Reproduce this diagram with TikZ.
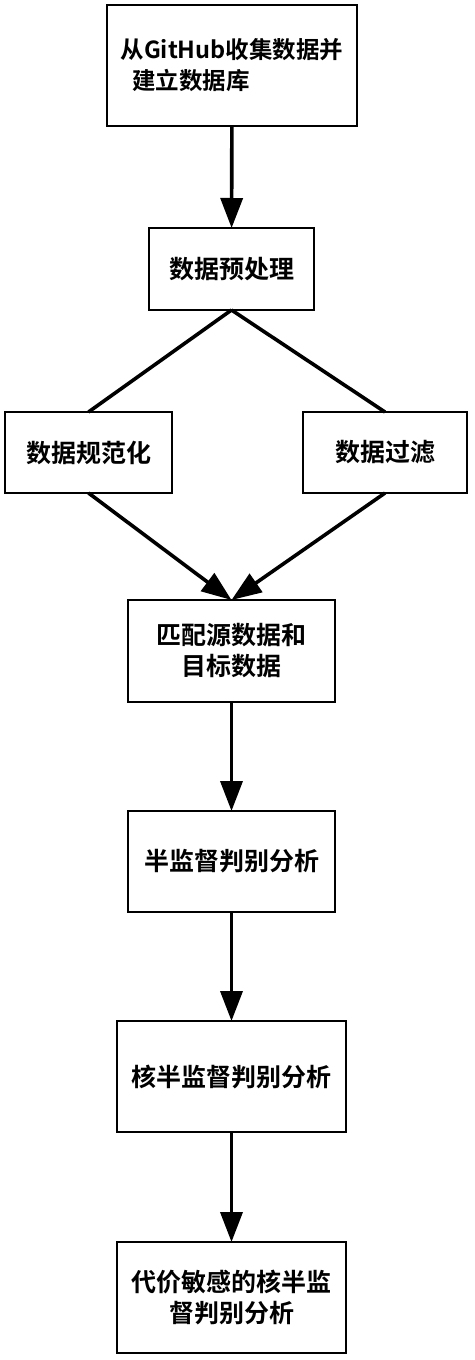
\documentclass[tikz,border=0pt]{standalone}
\usepackage{fontspec}
\newfontfamily\cjk{Noto Sans CJK SC}[BoldFont={* Bold}]
\usetikzlibrary{arrows.meta,positioning}
\tikzset{stepbox/.style={draw,line width=2.6pt,inner sep=0pt,outer sep=0pt,align=center},
  flow/.style={line width=3.6pt,-{Triangle[length=30pt,width=22pt]}},
  link/.style={line width=3.6pt}}

\begin{document}
\begin{tikzpicture}[x=1pt,y=-1pt,font=\cjk\bfseries\fontsize{25}{31}\selectfont]
\useasboundingbox (0,0) rectangle (474,1360);
% --- collect and preprocess
\node[stepbox,minimum width=250pt,minimum height=121pt,align=left,font=\cjk\bfseries\fontsize{23.5}{31}\selectfont] (collect) at (232,65.5) {从GitHub收集数据并\\\hspace*{0.5em}建立数据库};
\node[stepbox,minimum width=165pt,minimum height=82pt] (prep) at (231.5,269) {数据预处理};
% --- two branches
\node[stepbox,minimum width=167pt,minimum height=81pt] (norm) at (88.5,452.5) {数据规范化};
\node[stepbox,minimum width=164pt,minimum height=81pt] (filt) at (385,452.5) {数据过滤};
% --- matching and analysis
\node[stepbox,minimum width=207pt,minimum height=102pt] (match) at (231.5,651) {匹配源数据和\\目标数据};
\node[stepbox,minimum width=207pt,minimum height=101pt] (ssda) at (231.5,861.5) {半监督判别分析};
\node[stepbox,minimum width=229pt,minimum height=111pt] (kssda) at (231.5,1076.5) {核半监督判别分析};
\node[stepbox,minimum width=229pt,minimum height=111pt] (cskssda) at (231.5,1297.5) {代价敏感的核半监\\督判别分析};
\draw[flow] (collect) -- (prep);
\draw[link] (prep.south) -- (norm.north); \draw[link] (prep.south) -- (filt.north);
\draw[flow] (norm.south) -- (match.north); \draw[flow] (filt.south) -- (match.north);
\draw[flow] (match) -- (ssda);
\draw[flow] (ssda) -- (kssda);
\draw[flow] (kssda) -- (cskssda);
\end{tikzpicture}
\end{document}
